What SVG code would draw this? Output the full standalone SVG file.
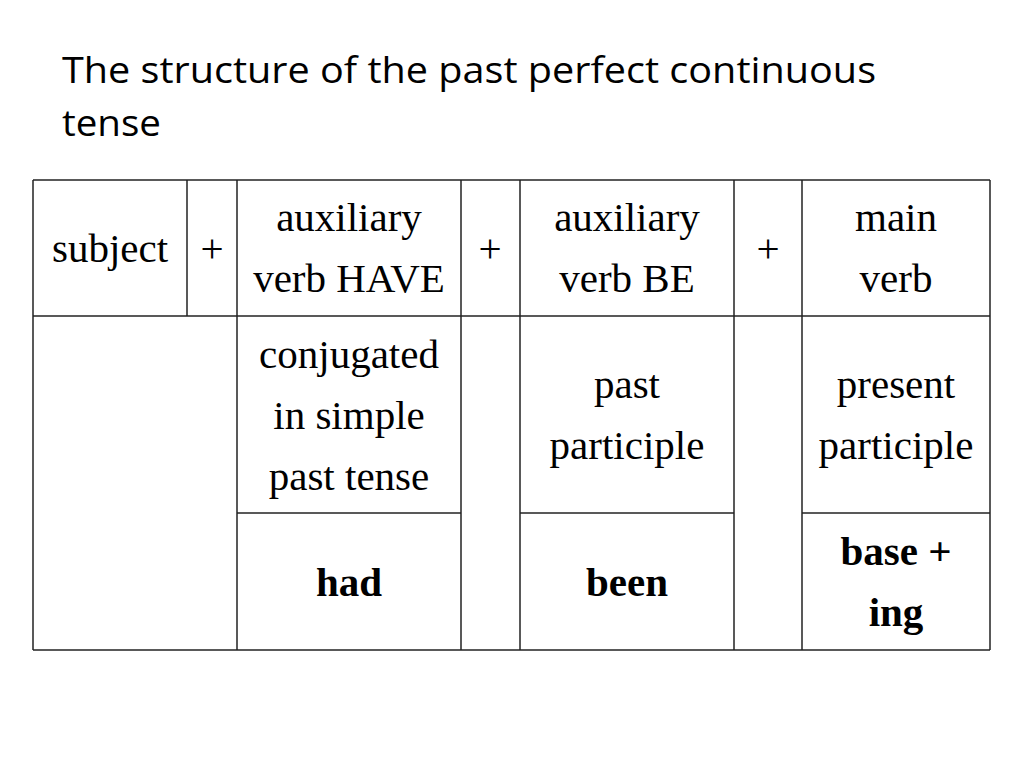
<svg xmlns="http://www.w3.org/2000/svg" width="1024" height="768" viewBox="0 0 1024 768">
<style>
.t{font-family:"Liberation Serif",serif;font-size:41px;fill:#000;text-anchor:middle}
.b{font-weight:bold}
.h{font-family:"Open Sans","Liberation Sans",sans-serif;font-size:37px;fill:#000}
line{stroke:#222;stroke-width:1.5}
</style>
<rect width="1024" height="768" fill="#fff"/>
<g id="title">
<text class="h" x="62" y="83" textLength="814" lengthAdjust="spacingAndGlyphs">The structure of the past perfect continuous</text>
<text class="h" x="62" y="136" textLength="99" lengthAdjust="spacingAndGlyphs">tense</text>
</g>
<g id="grid">
<line x1="33" y1="180" x2="990" y2="180"/>
<line x1="33" y1="316" x2="990" y2="316"/>
<line x1="237" y1="513" x2="461" y2="513"/>
<line x1="520" y1="513" x2="734" y2="513"/>
<line x1="802" y1="513" x2="990" y2="513"/>
<line x1="33" y1="650" x2="990" y2="650"/>
<line x1="33" y1="180" x2="33" y2="650"/>
<line x1="187" y1="180" x2="187" y2="316"/>
<line x1="237" y1="180" x2="237" y2="650"/>
<line x1="461" y1="180" x2="461" y2="650"/>
<line x1="520" y1="180" x2="520" y2="650"/>
<line x1="734" y1="180" x2="734" y2="650"/>
<line x1="802" y1="180" x2="802" y2="650"/>
<line x1="990" y1="180" x2="990" y2="650"/>
</g>
<g id="cells">
<text class="t" x="110" y="262">subject</text>
<text class="t" x="212" y="262">+</text>
<text class="t" x="349" y="231">auxiliary</text>
<text class="t" x="349" y="292">verb HAVE</text>
<text class="t" x="490" y="262">+</text>
<text class="t" x="627" y="231">auxiliary</text>
<text class="t" x="627" y="292">verb BE</text>
<text class="t" x="768" y="262">+</text>
<text class="t" x="896" y="231">main</text>
<text class="t" x="896" y="292">verb</text>
<text class="t" x="349" y="368">conjugated</text>
<text class="t" x="349" y="429">in simple</text>
<text class="t" x="349" y="490">past tense</text>
<text class="t" x="627" y="398">past</text>
<text class="t" x="627" y="459">participle</text>
<text class="t" x="896" y="398">present</text>
<text class="t" x="896" y="459">participle</text>
<text class="t b" x="349" y="596">had</text>
<text class="t b" x="627" y="596">been</text>
<text class="t b" x="896" y="565">base +</text>
<text class="t b" x="896" y="626">ing</text>
</g>
</svg>
